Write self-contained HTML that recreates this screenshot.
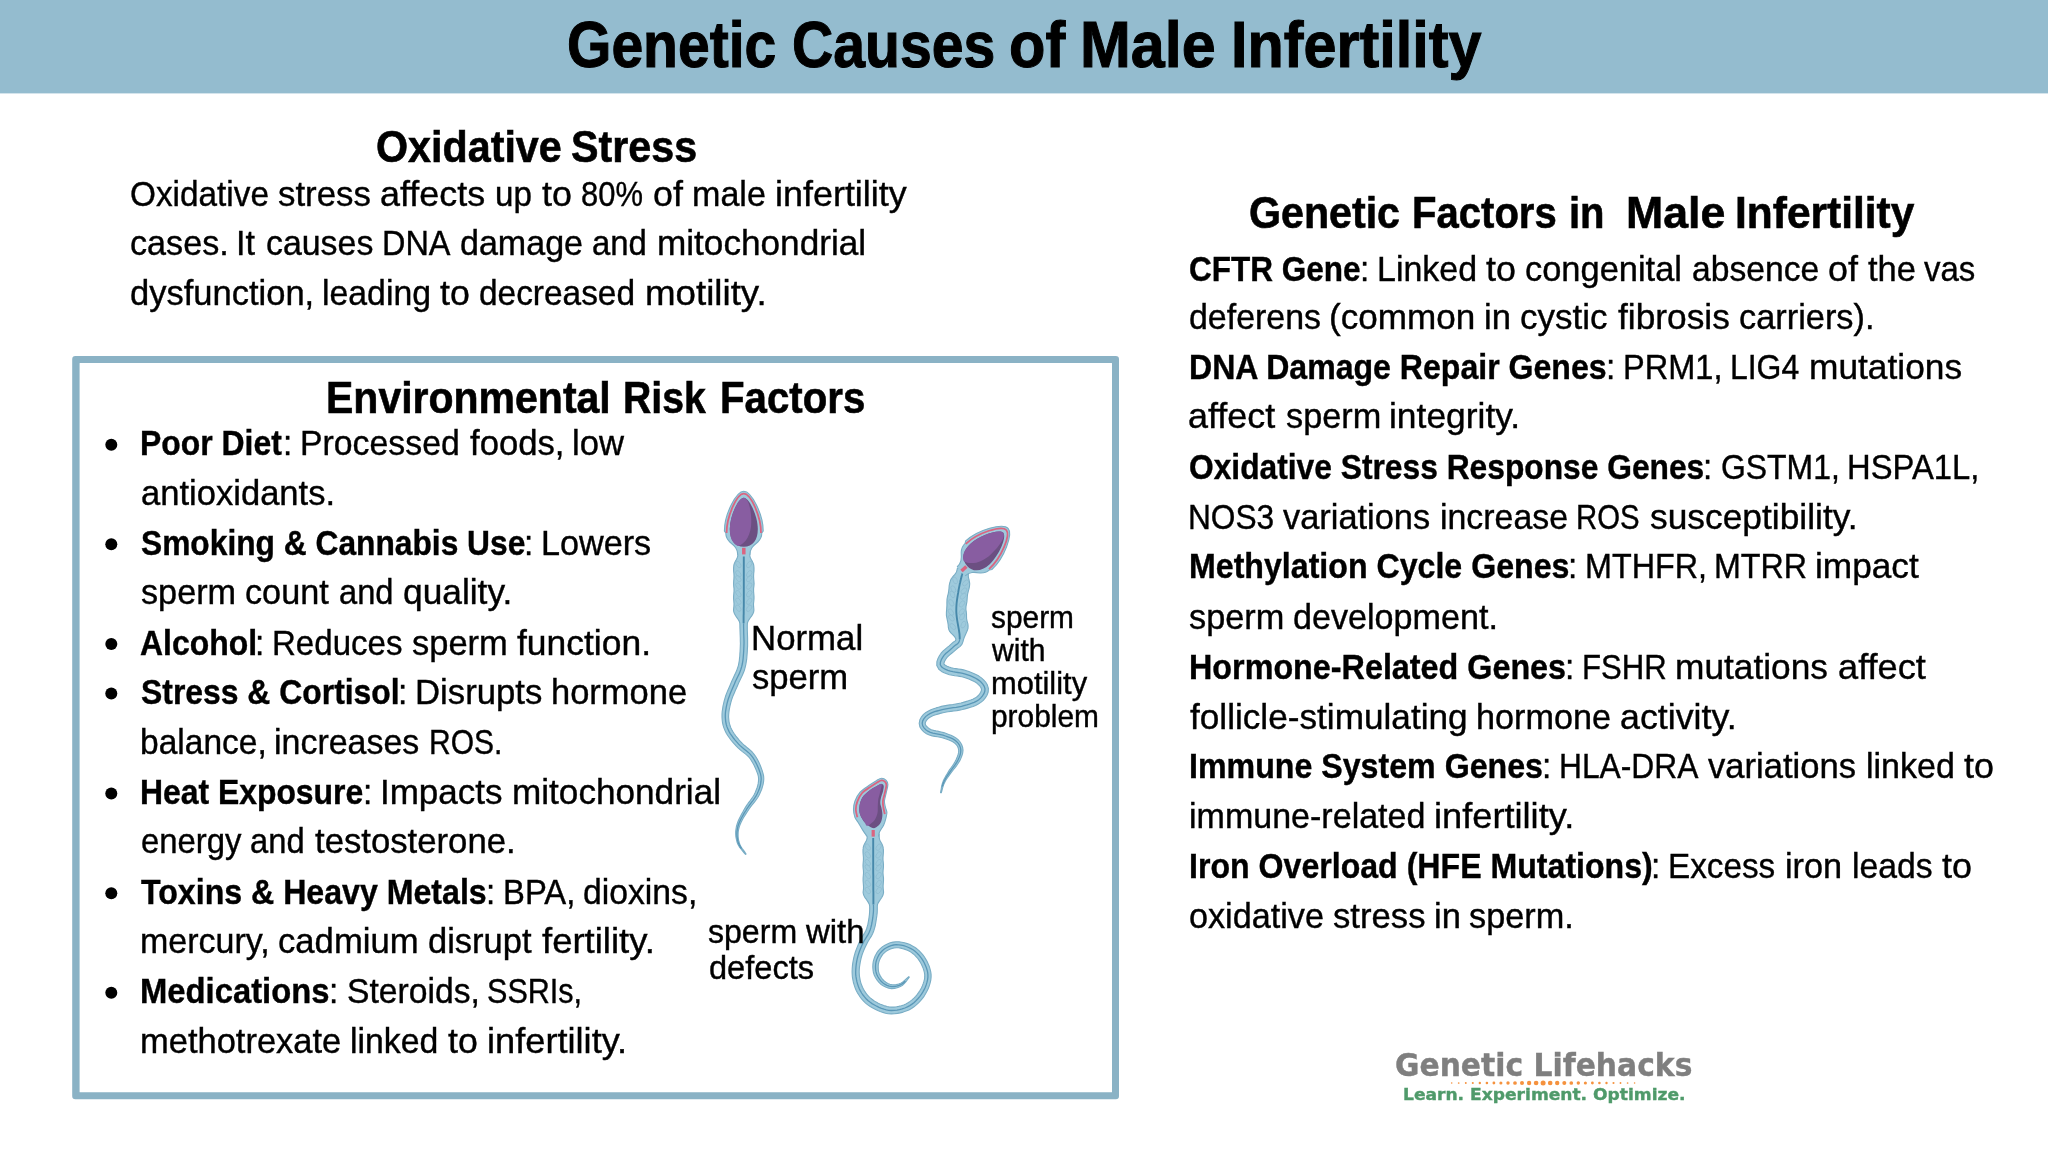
<!DOCTYPE html>
<html lang="en">
<head>
<meta charset="utf-8">
<title>Genetic Causes of Male Infertility</title>
<style>
html,body{margin:0;padding:0;background:#fff}
body{width:2048px;height:1152px;position:relative;overflow:hidden;font-family:"Liberation Sans",sans-serif;color:#000}
.ln{position:absolute;margin:0;padding:0;font-weight:400;white-space:pre;line-height:1;will-change:transform;-webkit-text-stroke:0.4px currentColor}
.ln span{position:absolute;top:0;left:0;transform-origin:0 0;font-weight:400}
.ln span.b{font-weight:700}
.dv{font-family:"DejaVu Sans",sans-serif}
.ill{position:absolute;left:0;top:0}
</style>
</head>
<body>

<svg class="ill" width="2048" height="1152" viewBox="0 0 2048 1152"><rect x="0" y="0" width="2048" height="93.4" fill="#94bccf"/><path fill="#8ab2c5" fill-rule="evenodd" d="M75.4 356.0H1115.8A3.2 3.2 0 0 1 1119.0 359.2V1096.1A3.2 3.2 0 0 1 1115.8 1099.3H75.4A3.2 3.2 0 0 1 72.2 1096.1V359.2A3.2 3.2 0 0 1 75.4 356.0ZM80.0 362.95H1111.6A0.4 0.4 0 0 1 1112.0 363.34999999999997V1091.8999999999999A0.4 0.4 0 0 1 1111.6 1092.3H80.0A0.4 0.4 0 0 1 79.6 1091.8999999999999V363.34999999999997A0.4 0.4 0 0 1 80.0 362.95Z"/><path d="M737.8 552.0 L737.8 553.1 L737.8 554.3 L737.8 555.4 L737.6 556.6 L737.2 557.7 L736.7 558.8 L736.1 560.0 L735.5 561.1 L734.9 562.2 L734.4 563.4 L734.0 564.5 L733.8 565.7 L733.7 566.8 L733.6 568.0 L733.6 570.9 L733.9 573.8 L734.0 576.2 L733.9 578.7 L733.7 581.1 L733.6 583.6 L733.7 586.1 L734.0 588.6 L734.0 591.2 L733.8 593.7 L733.6 596.2 L733.6 598.7 L733.8 601.2 L734.0 603.7 L733.9 606.2 L733.7 608.1 L733.5 610.0 L733.8 611.9 L734.5 613.8 L735.6 615.7 L736.9 617.6 L738.2 619.5 L739.3 621.4 L739.8 623.2 L739.9 625.0 L739.9 626.8 L740.0 629.7 L740.1 632.6 L740.2 635.4 L740.3 638.2 L740.3 640.9 L740.4 643.5 L740.3 646.0 L740.2 648.6 L740.1 651.1 L739.9 653.6 L739.8 656.0 L739.5 658.3 L739.3 660.6 L738.8 663.3 L738.3 665.8 L737.5 668.2 L736.7 670.6 L735.6 672.9 L734.5 675.3 L733.4 677.7 L732.2 680.2 L731.1 682.8 L730.1 685.2 L729.0 687.7 L727.9 690.3 L726.8 692.9 L725.8 695.5 L725.0 698.2 L724.2 700.8 L723.6 703.5 L723.0 706.2 L722.6 708.9 L722.2 711.5 L722.0 714.2 L722.0 717.2 L722.2 720.0 L722.5 722.7 L723.1 725.3 L723.9 727.9 L725.0 730.5 L726.3 733.2 L727.7 735.5 L729.3 737.8 L730.9 740.0 L732.7 742.1 L734.5 744.2 L736.3 746.2 L738.3 748.1 L740.3 749.9 L742.4 751.6 L744.4 753.1 L746.3 754.6 L747.9 756.1 L749.4 757.7 L750.7 759.5 L751.9 761.5 L753.1 763.5 L754.2 765.5 L755.3 767.9 L756.2 770.1 L757.1 772.4 L757.9 774.6 L758.4 776.7 L758.6 778.8 L758.5 781.0 L758.2 783.4 L757.7 785.6 L757.0 788.0 L756.1 790.3 L755.1 792.7 L754.0 795.0 L752.7 797.0 L751.3 799.0 L749.8 801.1 L748.2 803.2 L746.7 805.4 L745.3 807.6 L744.0 809.8 L742.8 812.0 L741.5 814.2 L740.4 816.4 L739.1 818.9 L738.1 821.3 L737.2 823.8 L736.4 826.5 L736.0 829.0 L735.7 831.6 L735.7 834.1 L735.9 836.8 L736.4 839.4 L737.0 842.0 L738.0 844.5 L739.3 846.8 L741.0 849.0 L742.5 850.9 L744.1 852.8 L745.5 854.4 L746.1 854.0 L744.9 852.2 L743.4 850.2 L742.0 848.3 L740.6 846.1 L739.6 843.8 L738.9 841.5 L738.4 839.0 L738.1 836.6 L738.1 834.1 L738.2 831.8 L738.6 829.5 L739.2 827.2 L740.0 824.8 L741.0 822.5 L742.1 820.3 L743.3 818.0 L744.6 816.0 L745.9 813.9 L747.3 811.8 L748.6 809.7 L750.0 807.7 L751.5 805.7 L753.2 803.7 L754.8 801.6 L756.4 799.5 L757.9 797.3 L759.3 794.7 L760.5 792.1 L761.6 789.5 L762.4 786.9 L763.1 784.3 L763.6 781.5 L763.8 778.8 L763.6 775.9 L763.0 773.3 L762.2 770.6 L761.3 768.1 L760.4 765.7 L759.2 763.1 L758.1 760.8 L756.9 758.5 L755.5 756.3 L753.9 754.1 L752.2 752.0 L750.2 750.2 L748.2 748.5 L746.2 746.8 L744.3 745.3 L742.5 743.7 L740.9 742.0 L739.2 740.1 L737.6 738.1 L735.9 736.1 L734.4 734.0 L733.1 732.0 L732.0 730.1 L730.9 727.9 L730.1 725.8 L729.5 723.7 L729.0 721.6 L728.8 719.3 L728.6 717.0 L728.7 714.5 L728.9 712.3 L729.2 709.9 L729.7 707.5 L730.2 705.0 L730.8 702.6 L731.5 700.2 L732.3 697.8 L733.2 695.4 L734.3 693.0 L735.3 690.5 L736.5 688.0 L737.6 685.5 L738.6 683.1 L739.7 680.7 L740.9 678.3 L742.1 675.8 L743.2 673.2 L744.3 670.5 L745.1 667.6 L745.8 664.6 L746.3 661.7 L746.7 659.2 L746.9 656.6 L747.1 654.1 L747.3 651.5 L747.4 648.9 L747.6 646.3 L747.6 643.5 L747.6 640.8 L747.6 638.0 L747.5 635.2 L747.4 632.4 L747.3 629.6 L747.3 626.7 L747.3 625.0 L747.4 623.2 L748.0 621.4 L749.0 619.6 L750.3 617.8 L751.7 615.9 L752.8 614.0 L753.6 612.2 L753.9 610.3 L753.8 608.3 L753.6 606.4 L753.5 603.9 L753.8 601.3 L754.0 598.8 L754.0 596.3 L753.8 593.7 L753.6 591.2 L753.6 588.6 L753.9 586.1 L754.1 583.6 L753.9 581.1 L753.7 578.6 L753.6 576.2 L753.7 573.8 L754.0 570.9 L754.0 568.0 L753.9 566.8 L753.8 565.7 L753.6 564.5 L753.2 563.4 L752.7 562.2 L752.1 561.1 L751.5 560.0 L750.9 558.8 L750.4 557.7 L750.0 556.6 L749.8 555.4 L749.8 554.3 L749.8 553.1 L749.8 552.0Z" fill="#9ecadc" stroke="#79adc5" stroke-width="1.1" stroke-linejoin="round"/>
<ellipse cx="749.2" cy="564.5" rx="3.6" ry="2.1" transform="rotate(125 749.2 564.5)" fill="none" stroke="#8fbdd2" stroke-width="0.8"/>
<ellipse cx="738.4" cy="564.5" rx="3.6" ry="2.1" transform="rotate(55 738.4 564.5)" fill="none" stroke="#8fbdd2" stroke-width="0.8"/>
<ellipse cx="749.2" cy="573.8" rx="3.6" ry="2.1" transform="rotate(125 749.2 573.8)" fill="none" stroke="#8fbdd2" stroke-width="0.8"/>
<ellipse cx="738.4" cy="573.8" rx="3.6" ry="2.1" transform="rotate(55 738.4 573.8)" fill="none" stroke="#8fbdd2" stroke-width="0.8"/>
<ellipse cx="749.2" cy="578.6" rx="3.6" ry="2.1" transform="rotate(125 749.2 578.6)" fill="none" stroke="#8fbdd2" stroke-width="0.8"/>
<ellipse cx="738.4" cy="578.6" rx="3.6" ry="2.1" transform="rotate(55 738.4 578.6)" fill="none" stroke="#8fbdd2" stroke-width="0.8"/>
<ellipse cx="749.2" cy="586.1" rx="3.6" ry="2.1" transform="rotate(125 749.2 586.1)" fill="none" stroke="#8fbdd2" stroke-width="0.8"/>
<ellipse cx="738.4" cy="586.1" rx="3.6" ry="2.1" transform="rotate(55 738.4 586.1)" fill="none" stroke="#8fbdd2" stroke-width="0.8"/>
<ellipse cx="749.2" cy="593.7" rx="3.6" ry="2.1" transform="rotate(125 749.2 593.7)" fill="none" stroke="#8fbdd2" stroke-width="0.8"/>
<ellipse cx="738.4" cy="593.7" rx="3.6" ry="2.1" transform="rotate(55 738.4 593.7)" fill="none" stroke="#8fbdd2" stroke-width="0.8"/>
<ellipse cx="749.2" cy="601.3" rx="3.6" ry="2.1" transform="rotate(125 749.2 601.3)" fill="none" stroke="#8fbdd2" stroke-width="0.8"/>
<ellipse cx="738.4" cy="601.2" rx="3.6" ry="2.1" transform="rotate(55 738.4 601.2)" fill="none" stroke="#8fbdd2" stroke-width="0.8"/>
<ellipse cx="749.1" cy="608.3" rx="3.6" ry="2.1" transform="rotate(126 749.1 608.3)" fill="none" stroke="#8fbdd2" stroke-width="0.8"/>
<ellipse cx="738.3" cy="608.2" rx="3.6" ry="2.1" transform="rotate(56 738.3 608.2)" fill="none" stroke="#8fbdd2" stroke-width="0.8"/>
<path d="M743.8 556.6 L743.8 557.7 L743.8 558.8 L743.8 560.0 L743.8 561.1 L743.8 562.2 L743.8 563.4 L743.8 564.5 L743.8 565.7 L743.8 566.8 L743.8 568.0 L743.8 570.9 L743.8 573.8 L743.8 576.2 L743.8 578.6 L743.8 581.1 L743.8 583.6 L743.8 586.1 L743.8 588.6 L743.8 591.2 L743.8 593.7 L743.8 596.2 L743.8 598.7 L743.8 601.3 L743.8 603.8 L743.8 606.3 L743.7 608.2 L743.7 610.1 L743.7 612.0 L743.7 613.9 L743.6 615.8 L743.6 617.7 L743.6 619.6 L743.6 621.4 L743.6 623.2" fill="none" stroke="#4688aa" stroke-width="1.9"/>
<path d="M743.6 623.2 L743.6 625.0 L743.6 626.8 L743.7 629.7 L743.7 632.5 L743.8 635.3 L743.9 638.1 L744.0 640.8 L744.0 643.5 L743.9 646.2 L743.8 648.8 L743.7 651.3 L743.5 653.8 L743.3 656.3 L743.1 658.8 L742.8 661.1 L742.3 664.0 L741.7 666.7 L740.9 669.3 L739.9 671.9 L738.9 674.4 L737.7 676.8 L736.5 679.2 L735.4 681.6 L734.4 684.1 L733.3 686.6 L732.2 689.1 L731.1 691.6 L730.0 694.2 L729.1 696.7 L728.2 699.2 L727.5 701.7 L726.9 704.2 L726.3 706.8 L725.9 709.4 L725.5 711.9 L725.3 714.3 L725.3 717.1 L725.5 719.7 L725.8 722.1 L726.3 724.5 L727.0 726.9 L728.0 729.2 L729.1 731.6 L730.4 733.8 L731.9 735.9 L733.4 738.0 L735.1 740.1 L736.9 742.1 L738.6 744.1 L740.4 745.9 L742.3 747.6 L744.3 749.2 L746.3 750.8 L748.3 752.4 L750.1 754.1 L751.6 755.9 L753.1 757.9 L754.4 760.0 L755.6 762.1 L756.7 764.3 L757.8 766.8 L758.8 769.1 L759.7 771.5 L760.5 773.9 L761.0 776.3 L761.2 778.8 L761.0 781.2 L760.6 783.9 L760.1 786.3 L759.3 788.7 L758.3 791.2 L757.2 793.7 L755.9 796.1 L754.6 798.2 L753.1 800.3 L751.5 802.4 L749.9 804.5 L748.4 806.6 L747.0 808.6 L745.7 810.8 L744.3 812.9 L743.1 815.1 L741.9 817.2 L740.6 819.6 L739.5 821.9 L738.6 824.3 L737.8 826.8 L737.3 829.3 L737.0 831.7 L736.9 834.1 L737.0 836.7 L737.4 839.2 L738.0 841.7 L738.8 844.1 L740.0 846.4 L741.5 848.7" fill="none" stroke="#5a97b7" stroke-width="1.3"/><g transform="translate(743.8 552.0) rotate(0.0)"><path d="M-6 3C-6-3-9-6-14-10C-17-13-18-16-18-19L-19.4-21C-19.4-38-7.5-60.75 0-60.75C7.5-60.75 19.4-38 19.4-21L18-19C18-16 17-13 14-10C9-6 6-3 6 3Z" fill="#9ecadc"/><path d="M-6 3C-6-3-9-6-14-10C-17-13-18-16-18-19L-19.4-21C-19.4-38-7.5-60.75 0-60.75C7.5-60.75 19.4-38 19.4-21L18-19C18-16 17-13 14-10C9-6 6-3 6 3" fill="none" stroke="#79adc5" stroke-width="1.1"/><path d="M0-5.2C-9-5.2-14-12-14-23C-14-36-5.5-54.2 0-54.2C5.5-54.2 14-36 14-23C14-12 9-5.2 0-5.2Z" fill="#6c4f82"/><path d="M-6-6C-11-8-14-14-14-23C-14-36-5.5-54.2 0-54.2C4-54.2 7.5-44 7.5-30C7.5-18 2-8-6-6Z" fill="#885da1"/><path d="M-17.2-19.1C-17.2-36-6.8-58.3 0-58.3C6.8-58.3 17.2-36 17.2-19.1" fill="none" stroke="#db6480" stroke-width="1.8"/><rect x="-1.75" y="-4.2" width="3.5" height="6.6" fill="#db6480"/></g><path d="M957.5 568.0 L957.2 569.1 L957.0 570.1 L956.7 571.1 L956.4 572.0 L955.8 573.0 L955.2 573.9 L954.5 574.8 L953.7 575.7 L952.9 576.6 L952.2 577.5 L951.5 578.5 L950.9 579.4 L950.5 580.5 L950.2 581.6 L949.8 582.7 L949.2 585.5 L949.0 588.3 L948.7 591.1 L948.2 593.8 L947.5 596.5 L947.0 599.4 L946.9 602.4 L946.9 605.6 L946.7 608.8 L946.4 612.3 L946.4 615.4 L947.0 618.6 L947.7 621.8 L948.2 624.9 L948.3 627.2 L948.8 629.4 L949.7 631.4 L951.1 633.2 L952.7 634.7 L954.1 636.2 L955.1 637.4 L955.8 638.8 L955.8 639.9 L955.6 640.5 L955.2 640.9 L953.3 642.2 L951.1 644.1 L949.2 645.8 L947.3 647.4 L945.3 649.1 L943.2 650.9 L941.1 653.2 L939.4 655.7 L938.0 658.4 L936.9 661.6 L936.8 665.5 L938.8 669.2 L941.5 671.4 L944.1 672.7 L946.7 673.7 L949.4 674.7 L952.3 675.3 L954.8 675.7 L957.3 676.0 L959.7 676.4 L961.9 676.8 L964.4 677.5 L966.6 678.2 L968.8 679.0 L970.9 679.9 L973.2 681.0 L975.2 682.0 L977.1 683.3 L978.7 684.8 L980.0 686.2 L981.0 687.8 L981.5 689.2 L981.4 690.5 L980.7 692.2 L979.7 693.8 L978.4 695.5 L976.7 697.0 L975.0 698.1 L972.8 699.2 L970.7 700.0 L968.4 700.8 L965.8 701.6 L963.2 702.4 L960.9 703.0 L958.4 703.5 L955.7 704.0 L952.8 704.5 L949.8 704.9 L946.9 705.4 L944.1 705.9 L941.4 706.4 L938.6 707.2 L936.1 707.9 L933.6 708.7 L930.9 709.7 L928.5 710.9 L925.9 712.4 L923.5 714.4 L921.5 716.8 L919.9 719.7 L919.2 723.3 L919.9 726.9 L921.7 729.7 L923.8 731.9 L926.5 733.7 L929.3 735.0 L932.2 735.9 L934.9 736.4 L937.5 736.8 L940.0 737.3 L942.2 737.7 L944.6 738.4 L946.9 739.2 L949.0 740.0 L951.3 741.0 L953.2 742.0 L954.9 743.2 L956.4 744.8 L957.6 746.5 L958.3 748.3 L958.7 750.3 L958.6 752.4 L958.1 754.6 L957.2 757.0 L956.3 759.2 L955.1 761.5 L953.8 763.7 L952.5 765.7 L951.1 767.7 L949.5 769.9 L948.2 772.1 L946.9 774.2 L945.6 776.4 L944.3 778.8 L943.2 781.1 L942.3 783.7 L941.6 786.3 L941.2 789.0 L940.7 791.6 L940.5 792.6 L941.3 792.8 L941.6 791.8 L942.3 789.2 L943.0 786.7 L943.8 784.3 L944.9 781.9 L946.1 779.8 L947.5 777.7 L949.0 775.6 L950.4 773.6 L951.9 771.6 L953.6 769.5 L955.1 767.6 L956.6 765.6 L958.2 763.3 L959.7 760.9 L960.8 758.5 L961.9 755.8 L962.7 753.1 L963.0 750.1 L962.6 747.2 L961.6 744.5 L960.1 742.0 L958.1 739.7 L955.9 737.9 L953.5 736.5 L951.0 735.3 L948.7 734.4 L946.3 733.5 L943.7 732.6 L941.1 732.0 L938.5 731.4 L935.9 730.9 L933.6 730.4 L931.3 729.7 L929.4 728.7 L927.7 727.4 L926.4 726.1 L925.5 724.7 L925.2 723.3 L925.6 721.9 L926.5 720.3 L927.8 718.8 L929.5 717.5 L931.3 716.5 L933.3 715.6 L935.7 714.7 L937.9 714.1 L940.3 713.4 L942.9 712.7 L945.3 712.3 L947.9 711.8 L950.8 711.4 L953.7 711.0 L956.7 710.6 L959.6 710.1 L962.4 709.5 L964.9 708.9 L967.7 708.1 L970.5 707.3 L973.1 706.4 L975.6 705.4 L978.3 704.0 L980.8 702.4 L983.3 700.3 L985.3 697.9 L987.0 695.2 L988.2 692.0 L988.4 688.4 L987.3 684.8 L985.6 682.0 L983.6 679.8 L981.4 677.9 L978.9 676.1 L976.4 674.7 L973.7 673.4 L971.3 672.5 L968.9 671.6 L966.5 670.8 L963.6 669.9 L961.0 669.4 L958.4 669.0 L955.9 668.6 L953.6 668.2 L951.3 667.7 L949.1 667.0 L947.1 666.2 L945.3 665.3 L944.3 664.5 L943.9 663.9 L944.0 663.0 L944.6 661.3 L945.6 659.5 L946.8 657.7 L948.3 656.2 L950.0 654.7 L952.0 653.0 L954.0 651.4 L956.0 649.6 L957.8 648.0 L959.9 646.6 L961.9 644.4 L962.9 641.9 L963.5 639.6 L964.3 637.3 L965.2 635.3 L966.2 633.1 L967.2 630.8 L968.0 628.4 L968.1 626.1 L967.9 623.8 L967.2 621.6 L966.6 618.8 L966.5 616.1 L966.5 613.7 L966.2 611.7 L965.9 609.2 L966.0 606.7 L966.4 604.3 L966.9 601.9 L967.1 599.4 L967.3 596.8 L967.6 594.2 L968.2 591.7 L968.9 589.2 L969.4 586.8 L969.5 585.9 L969.6 584.9 L969.7 583.9 L969.6 582.8 L969.4 581.7 L969.2 580.6 L968.9 579.5 L968.7 578.3 L968.4 577.2 L968.3 576.1 L968.3 575.0 L968.4 573.9 L968.7 572.8 L968.9 571.8 L969.1 570.8Z" fill="#9ecadc" stroke="#79adc5" stroke-width="1.1" stroke-linejoin="round"/>
<ellipse cx="965.6" cy="582.9" rx="3.6" ry="2.1" transform="rotate(138 965.6 582.9)" fill="none" stroke="#8fbdd2" stroke-width="0.8"/>
<ellipse cx="955.1" cy="580.4" rx="3.6" ry="2.1" transform="rotate(68 955.1 580.4)" fill="none" stroke="#8fbdd2" stroke-width="0.8"/>
<ellipse cx="963.9" cy="590.9" rx="3.6" ry="2.1" transform="rotate(135 963.9 590.9)" fill="none" stroke="#8fbdd2" stroke-width="0.8"/>
<ellipse cx="953.3" cy="589.1" rx="3.6" ry="2.1" transform="rotate(65 953.3 589.1)" fill="none" stroke="#8fbdd2" stroke-width="0.8"/>
<ellipse cx="963.1" cy="596.1" rx="3.6" ry="2.1" transform="rotate(134 963.1 596.1)" fill="none" stroke="#8fbdd2" stroke-width="0.8"/>
<ellipse cx="952.4" cy="594.4" rx="3.6" ry="2.1" transform="rotate(64 952.4 594.4)" fill="none" stroke="#8fbdd2" stroke-width="0.8"/>
<ellipse cx="962.0" cy="603.9" rx="3.6" ry="2.1" transform="rotate(130 962.0 603.9)" fill="none" stroke="#8fbdd2" stroke-width="0.8"/>
<ellipse cx="951.3" cy="602.8" rx="3.6" ry="2.1" transform="rotate(60 951.3 602.8)" fill="none" stroke="#8fbdd2" stroke-width="0.8"/>
<ellipse cx="961.7" cy="611.9" rx="3.6" ry="2.1" transform="rotate(123 961.7 611.9)" fill="none" stroke="#8fbdd2" stroke-width="0.8"/>
<ellipse cx="950.9" cy="612.1" rx="3.6" ry="2.1" transform="rotate(53 950.9 612.1)" fill="none" stroke="#8fbdd2" stroke-width="0.8"/>
<ellipse cx="962.1" cy="616.6" rx="3.6" ry="2.1" transform="rotate(118 962.1 616.6)" fill="none" stroke="#8fbdd2" stroke-width="0.8"/>
<ellipse cx="951.4" cy="618.0" rx="3.6" ry="2.1" transform="rotate(48 951.4 618.0)" fill="none" stroke="#8fbdd2" stroke-width="0.8"/>
<ellipse cx="963.4" cy="624.6" rx="3.6" ry="2.1" transform="rotate(115 963.4 624.6)" fill="none" stroke="#8fbdd2" stroke-width="0.8"/>
<ellipse cx="952.8" cy="626.5" rx="3.6" ry="2.1" transform="rotate(45 952.8 626.5)" fill="none" stroke="#8fbdd2" stroke-width="0.8"/>
<path d="M962.3 573.5 L962.1 574.5 L961.8 575.5 L961.6 576.6 L961.3 577.6 L961.1 578.6 L960.8 579.6 L960.6 580.6 L960.3 581.7 L960.1 582.7 L959.8 583.7 L959.6 584.8 L959.1 587.4 L958.6 590.0 L958.2 592.7 L957.7 595.3 L957.3 597.9 L956.9 600.6 L956.6 603.3 L956.4 606.1 L956.3 609.0 L956.3 612.0 L956.5 614.6 L956.8 617.3 L957.2 620.3 L957.7 623.3 L958.1 625.5 L958.5 627.7 L958.9 629.9 L959.2 632.0 L959.5 633.9 L959.6 635.7 L959.7 637.3 L959.7 639.2" fill="none" stroke="#4688aa" stroke-width="1.9"/>
<path d="M959.7 639.2 L959.4 640.9 L958.7 642.4 L957.6 643.8 L955.6 645.1 L953.5 646.8 L951.6 648.6 L949.7 650.2 L947.6 651.9 L945.7 653.5 L944.0 655.4 L942.5 657.6 L941.3 659.8 L940.4 662.3 L940.3 664.7 L941.5 666.8 L943.4 668.3 L945.6 669.4 L947.9 670.4 L950.4 671.2 L952.9 671.7 L955.3 672.1 L957.8 672.5 L960.3 672.9 L962.8 673.4 L965.4 674.1 L967.7 674.9 L970.0 675.7 L972.3 676.7 L974.8 677.8 L977.1 679.1 L979.3 680.6 L981.2 682.3 L982.8 684.1 L984.2 686.3 L985.0 688.8 L984.8 691.3 L983.9 693.7 L982.5 695.9 L980.8 697.9 L978.8 699.7 L976.6 701.1 L974.2 702.3 L971.9 703.2 L969.4 704.1 L966.8 704.9 L964.0 705.6 L961.6 706.3 L959.0 706.8 L956.2 707.3 L953.3 707.7 L950.3 708.1 L947.4 708.6 L944.7 709.1 L942.2 709.6 L939.5 710.3 L937.0 711.0 L934.6 711.7 L932.1 712.7 L929.9 713.7 L927.7 715.0 L925.6 716.6 L924.0 718.6 L922.7 720.8 L922.2 723.3 L922.7 725.8 L924.0 727.9 L925.8 729.7 L927.9 731.2 L930.3 732.4 L932.9 733.1 L935.4 733.6 L938.0 734.1 L940.6 734.6 L943.0 735.2 L945.4 736.0 L947.8 736.8 L950.0 737.7 L952.4 738.7 L954.5 739.9 L956.5 741.5 L958.3 743.4 L959.6 745.5 L960.5 747.8 L960.8 750.2 L960.6 752.8 L960.0 755.2 L959.0 757.7 L958.0 760.0 L956.7 762.4 L955.2 764.7 L953.8 766.6 L952.3 768.6 L950.7 770.8 L949.3 772.8 L947.9 774.9 L946.5 777.0 L945.2 779.3 L944.0 781.5 L943.0 784.0 L942.3 786.5" fill="none" stroke="#5a97b7" stroke-width="1.3"/><g transform="translate(963.3 569.4) rotate(47.5)"><path d="M-6 3C-6-3-9-6-14-10C-17-13-18-16-18-19L-19.4-21C-19.4-38-7.5-60.75 0-60.75C7.5-60.75 19.4-38 19.4-21L18-19C18-16 17-13 14-10C9-6 6-3 6 3Z" fill="#9ecadc"/><path d="M-6 3C-6-3-9-6-14-10C-17-13-18-16-18-19L-19.4-21C-19.4-38-7.5-60.75 0-60.75C7.5-60.75 19.4-38 19.4-21L18-19C18-16 17-13 14-10C9-6 6-3 6 3" fill="none" stroke="#79adc5" stroke-width="1.1"/><path d="M0-5.2C-9-5.2-14-12-14-23C-14-36-5.5-54.2 0-54.2C5.5-54.2 14-36 14-23C14-12 9-5.2 0-5.2Z" fill="#6c4f82"/><path d="M-6-6C-11-8-14-14-14-23C-14-36-5.5-54.2 0-54.2C4-54.2 7.5-44 7.5-30C7.5-18 2-8-6-6Z" fill="#885da1"/><path d="M-17.2-19.1C-17.2-36-6.8-58.3 0-58.3C6.8-58.3 17.2-36 17.2-19.1" fill="none" stroke="#db6480" stroke-width="1.8"/><rect x="-1.75" y="-4.2" width="3.5" height="6.6" fill="#db6480"/></g><path d="M867.2 834.2 L867.2 835.5 L867.2 836.8 L867.1 838.1 L866.8 839.4 L866.3 840.7 L865.6 842.0 L864.9 843.3 L864.2 844.6 L863.7 845.8 L863.3 847.1 L863.2 848.4 L863.0 849.7 L863.0 852.3 L863.2 854.9 L863.4 857.5 L863.4 860.0 L863.2 862.6 L863.0 865.2 L863.1 867.8 L863.4 870.5 L863.5 873.1 L863.3 875.6 L863.1 878.1 L863.1 880.6 L863.3 883.4 L863.5 886.1 L863.5 888.6 L863.3 890.5 L863.1 892.3 L863.4 894.1 L864.0 895.7 L864.8 897.3 L866.2 899.2 L867.5 901.1 L868.6 902.9 L869.4 904.6 L869.7 906.5 L869.7 908.1 L869.7 909.6 L869.6 912.1 L869.4 914.6 L869.1 917.1 L868.7 919.5 L868.3 921.9 L867.9 924.2 L867.3 926.4 L866.7 928.5 L865.8 930.7 L864.7 932.8 L863.4 934.9 L862.0 937.2 L860.6 939.7 L859.3 942.3 L858.2 944.8 L857.1 947.4 L856.1 950.0 L855.1 952.8 L854.3 955.6 L853.7 958.1 L853.2 960.7 L852.7 963.4 L852.4 966.1 L852.2 968.9 L852.1 971.7 L852.2 974.5 L852.4 977.2 L852.9 979.9 L853.4 982.5 L854.2 985.1 L855.1 987.7 L856.1 990.2 L857.3 992.6 L858.7 994.8 L860.1 997.0 L861.8 999.1 L863.6 1001.2 L865.6 1003.1 L867.8 1004.9 L870.2 1006.5 L872.8 1008.0 L875.2 1009.3 L877.7 1010.5 L880.2 1011.5 L882.9 1012.4 L885.5 1013.2 L888.2 1013.7 L891.4 1013.9 L894.5 1013.8 L897.6 1013.4 L900.2 1012.9 L903.2 1012.1 L906.1 1011.1 L908.9 1009.9 L911.5 1008.5 L914.0 1006.8 L916.3 1004.9 L918.5 1002.9 L920.6 1000.7 L922.5 998.4 L924.2 996.1 L925.7 993.5 L927.2 990.8 L928.3 988.5 L929.2 986.0 L930.1 983.1 L930.8 980.2 L931.1 977.2 L931.1 974.4 L930.7 971.6 L930.0 968.8 L929.2 966.2 L928.1 963.7 L927.0 961.3 L925.7 959.1 L924.3 956.8 L922.7 954.6 L920.9 952.6 L919.0 950.6 L916.9 948.8 L914.7 947.2 L912.4 945.9 L909.9 944.6 L907.2 943.6 L904.5 942.8 L901.8 942.2 L899.0 941.8 L896.0 941.7 L893.1 942.1 L890.2 942.8 L887.4 943.9 L884.9 945.2 L882.6 946.6 L880.3 948.6 L878.2 950.9 L876.5 953.4 L875.1 956.0 L874.1 958.7 L873.3 961.4 L872.9 964.2 L872.8 967.0 L873.0 969.8 L873.4 972.5 L874.3 975.3 L875.7 978.0 L877.3 980.4 L879.2 982.7 L881.2 984.5 L883.6 986.1 L886.1 987.3 L888.7 988.1 L891.6 988.6 L894.4 988.5 L897.2 987.8 L899.8 986.8 L902.2 985.5 L904.2 983.7 L906.0 981.7 L907.6 979.5 L909.1 977.4 L909.3 977.2 L908.7 976.6 L908.5 976.8 L906.5 978.6 L904.6 980.4 L902.8 982.0 L900.8 983.2 L898.6 984.0 L896.3 984.6 L894.1 984.9 L892.0 984.8 L889.8 984.2 L887.8 983.4 L885.9 982.3 L884.2 981.0 L882.7 979.5 L881.3 977.6 L880.1 975.6 L879.1 973.4 L878.5 971.3 L878.3 969.2 L878.2 967.0 L878.3 964.7 L878.7 962.6 L879.3 960.6 L880.2 958.5 L881.4 956.4 L882.7 954.4 L884.3 952.8 L886.0 951.4 L887.8 950.3 L889.8 949.3 L892.0 948.5 L894.1 948.0 L896.3 947.7 L898.5 947.8 L900.6 948.1 L902.9 948.7 L905.2 949.4 L907.4 950.3 L909.5 951.3 L911.3 952.4 L913.0 953.7 L914.7 955.1 L916.3 956.8 L917.8 958.5 L919.1 960.4 L920.3 962.3 L921.4 964.2 L922.3 966.3 L923.2 968.4 L923.9 970.6 L924.4 972.7 L924.7 974.9 L924.7 976.9 L924.5 979.1 L923.9 981.4 L923.1 983.9 L922.3 985.9 L921.4 987.9 L920.1 990.3 L918.7 992.4 L917.3 994.4 L915.7 996.3 L913.9 998.2 L912.0 999.9 L910.1 1001.4 L908.0 1002.8 L905.9 1003.9 L903.7 1004.9 L901.3 1005.7 L898.7 1006.4 L896.6 1006.8 L894.0 1007.1 L891.5 1007.1 L889.1 1006.9 L887.1 1006.5 L884.9 1005.9 L882.7 1005.1 L880.4 1004.2 L878.2 1003.2 L876.2 1002.1 L873.9 1000.7 L872.0 999.3 L870.2 997.9 L868.6 996.3 L867.1 994.7 L865.8 992.9 L864.6 991.1 L863.5 989.2 L862.5 987.3 L861.7 985.2 L860.9 983.1 L860.3 980.8 L859.9 978.6 L859.5 976.3 L859.3 974.0 L859.2 971.7 L859.3 969.4 L859.5 966.9 L859.9 964.4 L860.3 962.0 L860.8 959.7 L861.3 957.5 L862.0 955.0 L862.9 952.6 L863.8 950.2 L864.9 947.8 L866.0 945.4 L867.1 943.2 L868.3 941.0 L869.7 938.8 L871.2 936.4 L872.6 933.8 L873.7 931.0 L874.5 928.4 L875.2 925.8 L875.7 923.2 L876.1 920.6 L876.5 918.2 L876.9 915.4 L877.2 912.6 L877.3 909.8 L877.3 908.0 L877.3 906.3 L877.5 904.5 L878.2 902.9 L879.3 901.1 L880.6 899.2 L881.9 897.2 L882.8 895.6 L883.3 893.9 L883.6 892.2 L883.4 890.4 L883.2 888.5 L883.1 886.0 L883.3 883.3 L883.5 880.5 L883.5 878.1 L883.2 875.6 L883.0 873.0 L883.1 870.4 L883.4 867.8 L883.5 865.1 L883.3 862.5 L883.0 860.0 L883.0 857.4 L883.2 854.9 L883.4 852.3 L883.4 849.7 L883.2 848.4 L883.1 847.2 L882.7 845.9 L882.2 844.6 L881.5 843.3 L880.8 842.0 L880.1 840.7 L879.6 839.4 L879.3 838.1 L879.2 836.8 L879.2 835.5 L879.2 834.2Z" fill="#9ecadc" stroke="#79adc5" stroke-width="1.1" stroke-linejoin="round"/>
<ellipse cx="878.6" cy="847.2" rx="3.6" ry="2.1" transform="rotate(125 878.6 847.2)" fill="none" stroke="#8fbdd2" stroke-width="0.8"/>
<ellipse cx="867.8" cy="847.1" rx="3.6" ry="2.1" transform="rotate(55 867.8 847.1)" fill="none" stroke="#8fbdd2" stroke-width="0.8"/>
<ellipse cx="878.6" cy="854.9" rx="3.6" ry="2.1" transform="rotate(125 878.6 854.9)" fill="none" stroke="#8fbdd2" stroke-width="0.8"/>
<ellipse cx="867.8" cy="854.9" rx="3.6" ry="2.1" transform="rotate(55 867.8 854.9)" fill="none" stroke="#8fbdd2" stroke-width="0.8"/>
<ellipse cx="878.6" cy="862.6" rx="3.6" ry="2.1" transform="rotate(125 878.6 862.6)" fill="none" stroke="#8fbdd2" stroke-width="0.8"/>
<ellipse cx="867.8" cy="862.6" rx="3.6" ry="2.1" transform="rotate(55 867.8 862.6)" fill="none" stroke="#8fbdd2" stroke-width="0.8"/>
<ellipse cx="878.6" cy="867.8" rx="3.6" ry="2.1" transform="rotate(125 878.6 867.8)" fill="none" stroke="#8fbdd2" stroke-width="0.8"/>
<ellipse cx="867.8" cy="867.8" rx="3.6" ry="2.1" transform="rotate(55 867.8 867.8)" fill="none" stroke="#8fbdd2" stroke-width="0.8"/>
<ellipse cx="878.7" cy="875.6" rx="3.6" ry="2.1" transform="rotate(125 878.7 875.6)" fill="none" stroke="#8fbdd2" stroke-width="0.8"/>
<ellipse cx="867.9" cy="875.6" rx="3.6" ry="2.1" transform="rotate(55 867.9 875.6)" fill="none" stroke="#8fbdd2" stroke-width="0.8"/>
<ellipse cx="878.7" cy="883.4" rx="3.6" ry="2.1" transform="rotate(125 878.7 883.4)" fill="none" stroke="#8fbdd2" stroke-width="0.8"/>
<ellipse cx="867.9" cy="883.4" rx="3.6" ry="2.1" transform="rotate(55 867.9 883.4)" fill="none" stroke="#8fbdd2" stroke-width="0.8"/>
<ellipse cx="878.7" cy="890.4" rx="3.6" ry="2.1" transform="rotate(125 878.7 890.4)" fill="none" stroke="#8fbdd2" stroke-width="0.8"/>
<ellipse cx="867.9" cy="890.5" rx="3.6" ry="2.1" transform="rotate(55 867.9 890.5)" fill="none" stroke="#8fbdd2" stroke-width="0.8"/>
<path d="M873.2 838.1 L873.2 839.4 L873.2 840.7 L873.2 842.0 L873.2 843.3 L873.2 844.6 L873.2 845.9 L873.2 847.2 L873.2 848.4 L873.2 849.7 L873.2 852.3 L873.2 854.9 L873.2 857.5 L873.2 860.0 L873.2 862.6 L873.2 865.2 L873.2 867.8 L873.2 870.4 L873.2 873.0 L873.3 875.6 L873.3 878.1 L873.3 880.5 L873.3 883.4 L873.3 886.0 L873.3 888.5 L873.3 890.4 L873.4 892.2 L873.4 894.0 L873.4 895.7 L873.4 897.3 L873.4 899.2 L873.4 901.1 L873.4 902.9 L873.4 904.6" fill="none" stroke="#4688aa" stroke-width="1.9"/>
<path d="M873.4 904.6 L873.5 906.4 L873.5 908.1 L873.5 909.7 L873.4 912.3 L873.1 915.0 L872.8 917.7 L872.4 920.1 L872.0 922.5 L871.5 925.0 L870.9 927.4 L870.2 929.7 L869.2 932.2 L868.0 934.6 L866.6 936.9 L865.2 939.1 L863.8 941.4 L862.6 943.9 L861.5 946.3 L860.5 948.8 L859.5 951.3 L858.6 953.9 L857.8 956.5 L857.2 958.9 L856.7 961.4 L856.3 963.9 L856.0 966.5 L855.8 969.1 L855.7 971.7 L855.7 974.3 L856.0 976.7 L856.4 979.2 L856.9 981.7 L857.6 984.1 L858.4 986.5 L859.3 988.7 L860.4 990.9 L861.6 993.0 L863.0 995.0 L864.5 996.9 L866.1 998.7 L867.9 1000.5 L869.9 1002.1 L872.0 1003.6 L874.5 1005.0 L876.7 1006.2 L879.0 1007.3 L881.4 1008.3 L883.9 1009.2 L886.3 1009.8 L888.7 1010.3 L891.4 1010.5 L894.3 1010.4 L897.1 1010.1 L899.5 1009.7 L902.2 1008.9 L904.9 1008.0 L907.4 1006.9 L909.8 1005.6 L912.0 1004.1 L914.2 1002.4 L916.2 1000.5 L918.1 998.5 L919.9 996.4 L921.5 994.2 L922.9 991.9 L924.3 989.4 L925.3 987.2 L926.2 984.9 L927.0 982.2 L927.6 979.6 L927.9 977.1 L927.9 974.6 L927.6 972.1 L927.0 969.7 L926.2 967.3 L925.2 965.0 L924.2 962.8 L923.0 960.7 L921.7 958.6 L920.2 956.6 L918.6 954.7 L916.8 952.9 L915.0 951.2 L913.0 949.8 L910.9 948.6 L908.6 947.5 L906.2 946.5 L903.7 945.7 L901.2 945.1 L898.8 944.8 L896.2 944.7 L893.6 945.0 L891.1 945.7 L888.6 946.6 L886.4 947.7 L884.3 949.0 L882.3 950.7 L880.5 952.7 L878.9 954.9 L877.7 957.2 L876.7 959.6 L876.0 962.0 L875.6 964.5 L875.5 967.0 L875.6 969.5 L876.0 971.9 L876.7 974.3 L877.9 976.8 L879.3 979.0 L880.9 981.1 L882.7 982.7 L884.7 984.2 L886.9 985.3 L889.2 986.2 L891.8 986.7 L894.2 986.7 L896.7 986.2 L899.2 985.4 L901.5 984.3 L903.5 982.9 L905.3 981.0" fill="none" stroke="#5a97b7" stroke-width="1.3"/><g transform="translate(873.2 834.2)"><path d="M-5.8 2.5C-8.4 1.4 -8.8 -1.5 -10.3 -3.8C-11.8 -6.1 -13.5 -9.2 -14.8 -11.4C-16.1 -13.6 -17.5 -14.8 -18.3 -17.0C-19.1 -19.2 -19.7 -22.0 -19.7 -24.6C-19.7 -27.2 -19.4 -30.0 -18.3 -32.9C-17.2 -35.8 -15.5 -39.3 -13.1 -42.0C-10.7 -44.7 -6.8 -46.9 -4.0 -48.9C-1.2 -50.9 1.5 -52.6 3.6 -53.8C5.7 -55.0 6.9 -55.9 8.5 -55.9C10.1 -55.9 12.0 -54.8 13.0 -53.8C14.0 -52.8 14.7 -51.7 14.7 -49.6C14.7 -47.5 13.6 -44.1 13.0 -41.3C12.4 -38.5 11.3 -35.3 11.2 -32.9C11.1 -30.5 11.9 -28.5 12.3 -26.7C12.7 -24.9 13.6 -23.7 13.7 -21.8C13.8 -19.9 13.1 -17.7 12.6 -15.6C12.1 -13.5 11.5 -11.5 10.5 -9.3C9.5 -7.1 7.3 -4.4 6.4 -2.4C5.5 -0.4 7.3 1.7 5.3 2.5C3.3 3.3 -3.2 3.5 -5.8 2.5Z" fill="#9ecadc"/><path d="M-5.8 2.5C-6.5 1.4 -8.8 -1.5 -10.3 -3.8C-11.8 -6.1 -13.5 -9.2 -14.8 -11.4C-16.1 -13.6 -17.5 -14.8 -18.3 -17.0C-19.1 -19.2 -19.7 -22.0 -19.7 -24.6C-19.7 -27.2 -19.4 -30.0 -18.3 -32.9C-17.2 -35.8 -15.5 -39.3 -13.1 -42.0C-10.7 -44.7 -6.8 -46.9 -4.0 -48.9C-1.2 -50.9 1.5 -52.6 3.6 -53.8C5.7 -55.0 6.9 -55.9 8.5 -55.9C10.1 -55.9 12.0 -54.8 13.0 -53.8C14.0 -52.8 14.7 -51.7 14.7 -49.6C14.7 -47.5 13.6 -44.1 13.0 -41.3C12.4 -38.5 11.3 -35.3 11.2 -32.9C11.1 -30.5 11.9 -28.5 12.3 -26.7C12.7 -24.9 13.6 -23.7 13.7 -21.8C13.8 -19.9 13.1 -17.7 12.6 -15.6C12.1 -13.5 11.5 -11.5 10.5 -9.3C9.5 -7.1 7.3 -4.4 6.4 -2.4C5.5 -0.4 5.5 1.7 5.3 2.5" fill="none" stroke="#79adc5" stroke-width="1.1"/><path d="M-0.6 -6.2C-2.7 -6.8 -6.1 -9.1 -8.2 -11.4C-10.3 -13.7 -12.2 -17.1 -13.1 -19.8C-14.0 -22.5 -14.2 -24.6 -13.8 -27.4C-13.5 -30.2 -12.6 -33.7 -11.0 -36.4C-9.4 -39.1 -6.4 -41.4 -4.0 -43.4C-1.6 -45.4 1.5 -47.1 3.6 -48.2C5.7 -49.4 7.3 -50.3 8.5 -50.3C9.7 -50.3 10.3 -49.4 10.5 -48.2C10.7 -47.1 10.3 -45.4 9.9 -43.4C9.5 -41.4 8.3 -38.5 7.8 -36.4C7.3 -34.3 7.0 -32.8 7.1 -30.9C7.2 -29.0 8.2 -27.3 8.5 -25.3C8.8 -23.3 9.3 -21.2 9.2 -19.0C9.1 -16.8 8.6 -13.9 7.8 -12.1C7.0 -10.2 5.7 -8.9 4.3 -7.9C2.9 -6.9 1.5 -5.6 -0.6 -6.2Z" fill="#6c4f82"/><path d="M-6.8 -8.6C-7.5 -8.9 -7.1 -9.5 -8.2 -11.4C-9.2 -13.3 -12.2 -17.1 -13.1 -19.8C-14.0 -22.5 -14.2 -24.6 -13.8 -27.4C-13.5 -30.2 -12.6 -33.7 -11.0 -36.4C-9.4 -39.1 -6.4 -41.4 -4.0 -43.4C-1.6 -45.4 1.5 -47.1 3.6 -48.2C5.7 -49.3 8.0 -51.1 8.5 -50.0C9.0 -48.9 7.3 -43.9 6.7 -41.3C6.1 -38.7 5.3 -36.5 5.0 -34.3C4.7 -32.1 4.7 -30.3 4.6 -28.1C4.5 -25.9 4.8 -23.4 4.3 -21.1C3.8 -18.8 2.9 -16.2 1.5 -14.2C0.1 -12.2 -2.6 -10.2 -4.0 -9.3C-5.4 -8.4 -6.1 -8.2 -6.8 -8.6Z" fill="#885da1"/><path d="M-15.8 -17.0C-16.1 -18.3 -17.4 -22.0 -17.4 -24.6C-17.4 -27.2 -16.9 -30.1 -15.8 -32.9C-14.7 -35.7 -13.2 -38.9 -11.0 -41.3C-8.8 -43.7 -5.2 -45.7 -2.6 -47.5C-0.0 -49.3 2.5 -51.0 4.3 -52.0C6.1 -53.0 7.2 -53.7 8.5 -53.8C9.8 -53.9 11.1 -53.2 11.9 -52.4C12.7 -51.6 13.2 -50.8 13.2 -48.9C13.1 -47.0 12.2 -44.0 11.6 -41.3C11.0 -38.6 9.9 -35.3 9.7 -32.9C9.5 -30.5 9.9 -28.8 10.2 -26.7C10.5 -24.6 11.4 -21.2 11.6 -20.1" fill="none" stroke="#db6480" stroke-width="1.8"/><rect x="-1.6" y="-4.2" width="3.2" height="6.6" fill="#db6480"/></g><circle cx="1451.7" cy="1083" r="0.80" fill="#f5923e"/><circle cx="1458.7" cy="1083" r="0.86" fill="#f5923e"/><circle cx="1465.8" cy="1083" r="0.95" fill="#f5923e"/><circle cx="1472.8" cy="1083" r="1.05" fill="#f5923e"/><circle cx="1479.8" cy="1083" r="1.17" fill="#f5923e"/><circle cx="1486.9" cy="1083" r="1.29" fill="#f5923e"/><circle cx="1493.9" cy="1083" r="1.42" fill="#f5923e"/><circle cx="1500.9" cy="1083" r="1.56" fill="#f5923e"/><circle cx="1508.0" cy="1083" r="1.70" fill="#f5923e"/><circle cx="1515.0" cy="1083" r="1.85" fill="#f5923e"/><circle cx="1522.0" cy="1083" r="2.01" fill="#f5923e"/><circle cx="1529.1" cy="1083" r="2.17" fill="#f5923e"/><circle cx="1536.1" cy="1083" r="2.33" fill="#f5923e"/><circle cx="1543.1" cy="1083" r="2.50" fill="#f5923e"/><circle cx="1550.2" cy="1083" r="2.33" fill="#f5923e"/><circle cx="1557.2" cy="1083" r="2.17" fill="#f5923e"/><circle cx="1564.3" cy="1083" r="2.01" fill="#f5923e"/><circle cx="1571.3" cy="1083" r="1.85" fill="#f5923e"/><circle cx="1578.3" cy="1083" r="1.70" fill="#f5923e"/><circle cx="1585.4" cy="1083" r="1.56" fill="#f5923e"/><circle cx="1592.4" cy="1083" r="1.42" fill="#f5923e"/><circle cx="1599.4" cy="1083" r="1.29" fill="#f5923e"/><circle cx="1606.5" cy="1083" r="1.17" fill="#f5923e"/><circle cx="1613.5" cy="1083" r="1.05" fill="#f5923e"/><circle cx="1620.5" cy="1083" r="0.95" fill="#f5923e"/><circle cx="1627.6" cy="1083" r="0.86" fill="#f5923e"/><circle cx="1634.6" cy="1083" r="0.80" fill="#f5923e"/><circle cx="111.3" cy="444.7" r="6" fill="#000"/><circle cx="111.3" cy="544.2" r="6" fill="#000"/><circle cx="111.3" cy="644.0" r="6" fill="#000"/><circle cx="111.3" cy="693.5" r="6" fill="#000"/><circle cx="111.3" cy="793.4" r="6" fill="#000"/><circle cx="111.3" cy="893.2" r="6" fill="#000"/><circle cx="111.3" cy="992.8" r="6" fill="#000"/></svg>
<header aria-label="Title">
<h1 class="ln" style="left:556px;top:13px;width:942px;height:80px;font-size:64.0px;transform:translateY(0.00px)"><span class="b" style="left:11.02px;transform:scaleX(0.8914);-webkit-text-stroke-width:1.04px">Genetic </span><span class="b" style="left:236.12px;transform:scaleX(0.8924);-webkit-text-stroke-width:1.04px">Causes </span><span class="b" style="left:453.14px;transform:scaleX(0.9305);-webkit-text-stroke-width:1.04px">of </span><span class="b" style="left:524.39px;transform:scaleX(0.9533);-webkit-text-stroke-width:1.04px">Male </span><span class="b" style="left:675.19px;transform:scaleX(0.9267);-webkit-text-stroke-width:1.04px">Infertility </span></h1>
</header>
<section aria-label="Oxidative Stress">
<h2 class="ln" style="left:364px;top:124px;width:348px;height:56px;font-size:44.3px;transform:translateY(0.70px)"><span class="b" style="left:11.67px;transform:scaleX(0.9315);-webkit-text-stroke-width:0.60px">Oxidative </span><span class="b" style="left:207.17px;transform:scaleX(0.9316);-webkit-text-stroke-width:0.60px">Stress </span></h2>
<div class="ln" style="left:118px;top:175px;width:805px;height:44px;font-size:35.0px;transform:translateY(0.60px)"><span style="left:11.85px;transform:scaleX(0.9523)">Oxidative </span><span style="left:160.20px;transform:scaleX(0.9952)">stress </span><span style="left:262.33px;transform:scaleX(1.0265)">affects </span><span style="left:377.25px;transform:scaleX(0.9475)">up </span><span style="left:423.59px;transform:scaleX(1.0244)">to </span><span style="left:463.23px;transform:scaleX(0.8838)">80% </span><span style="left:534.52px;transform:scaleX(1.0247)">of </span><span style="left:574.08px;transform:scaleX(0.9740)">male </span><span style="left:657.01px;transform:scaleX(1.0265)">infertility </span></div>
<div class="ln" style="left:118px;top:225px;width:762px;height:44px;font-size:35.0px;transform:translateY(0.00px)"><span style="left:11.62px;transform:scaleX(0.9767)">cases. </span><span style="left:118.19px;transform:scaleX(0.9759)">It </span><span style="left:147.58px;transform:scaleX(0.9678)">causes </span><span style="left:263.78px;transform:scaleX(0.9269)">DNA </span><span style="left:341.87px;transform:scaleX(0.9723)">damage </span><span style="left:473.99px;transform:scaleX(0.9396)">and </span><span style="left:538.57px;transform:scaleX(1.0045)">mitochondrial </span></div>
<div class="ln" style="left:118px;top:274px;width:661px;height:44px;font-size:35.0px;transform:translateY(0.90px)"><span style="left:11.61px;transform:scaleX(0.9860)">dysfunction, </span><span style="left:203.66px;transform:scaleX(0.9661)">leading </span><span style="left:321.87px;transform:scaleX(1.0202)">to </span><span style="left:361.00px;transform:scaleX(0.9546)">decreased </span><span style="left:526.52px;transform:scaleX(1.0485)">motility. </span></div>
</section>
<section aria-label="Environmental Risk Factors">
<h2 class="ln" style="left:317px;top:376px;width:564px;height:56px;font-size:44.3px;transform:translateY(0.00px)"><span class="b" style="left:9.22px;transform:scaleX(0.9255);-webkit-text-stroke-width:0.60px">Environmental </span><span class="b" style="left:306.05px;transform:scaleX(0.8835);-webkit-text-stroke-width:0.60px">Risk </span><span class="b" style="left:402.77px;transform:scaleX(0.9083);-webkit-text-stroke-width:0.60px">Factors </span></h2>
<div class="ln" style="left:130px;top:425px;width:510px;height:44px;font-size:35.0px;transform:translateY(0.20px)"><span class="b" style="left:10.28px;transform:scaleX(0.9117)">Poor Diet</span><span style="left:152.66px;transform:scaleX(0.9466)">: </span><span style="left:169.69px;transform:scaleX(0.9662)">Processed </span><span style="left:339.81px;transform:scaleX(0.9911)">foods, </span><span style="left:441.58px;transform:scaleX(0.9890)">low </span></div>
<div class="ln" style="left:129px;top:474px;width:220px;height:44px;font-size:35.0px;transform:translateY(0.60px)"><span style="left:11.91px;transform:scaleX(0.9876)">antioxidants. </span></div>
<div class="ln" style="left:129px;top:524px;width:538px;height:44px;font-size:35.0px;transform:translateY(0.70px)"><span class="b" style="left:11.59px;transform:scaleX(0.9064)">Smoking &amp; Cannabis Use</span><span style="left:395.15px;transform:scaleX(0.9488)">: </span><span style="left:412.20px;transform:scaleX(0.9768)">Lowers </span></div>
<div class="ln" style="left:129px;top:574px;width:396px;height:44px;font-size:35.0px;transform:translateY(0.20px)"><span style="left:11.52px;transform:scaleX(0.9779)">sperm </span><span style="left:115.54px;transform:scaleX(0.9776)">count </span><span style="left:209.62px;transform:scaleX(0.9330)">and </span><span style="left:273.97px;transform:scaleX(1.0089)">quality. </span></div>
<div class="ln" style="left:129px;top:624px;width:535px;height:44px;font-size:35.0px;transform:translateY(0.50px)"><span class="b" style="left:11.09px;transform:scaleX(0.9120)">Alcohol</span><span style="left:126.15px;transform:scaleX(0.9494)">: </span><span style="left:143.31px;transform:scaleX(0.9444)">Reduces </span><span style="left:283.07px;transform:scaleX(0.9848)">sperm </span><span style="left:388.23px;transform:scaleX(1.0129)">function. </span></div>
<div class="ln" style="left:129px;top:674px;width:573px;height:44px;font-size:35.0px;transform:translateY(0.00px)"><span class="b" style="left:11.59px;transform:scaleX(0.9110)">Stress &amp; Cortisol</span><span style="left:268.64px;transform:scaleX(0.9542)">: </span><span style="left:285.75px;transform:scaleX(0.9918)">Disrupts </span><span style="left:422.00px;transform:scaleX(0.9854)">hormone </span></div>
<div class="ln" style="left:130px;top:723px;width:386px;height:44px;font-size:35.0px;transform:translateY(0.90px)"><span style="left:10.08px;transform:scaleX(0.9579)">balance, </span><span style="left:144.14px;transform:scaleX(0.9702)">increases </span><span style="left:298.64px;transform:scaleX(0.8574)">ROS. </span></div>
<div class="ln" style="left:130px;top:773px;width:605px;height:44px;font-size:35.0px;transform:translateY(0.90px)"><span class="b" style="left:10.28px;transform:scaleX(0.9107)">Heat Exposure</span><span style="left:232.65px;transform:scaleX(0.9491)">: </span><span style="left:249.97px;transform:scaleX(1.0000)">Impacts </span><span style="left:382.14px;transform:scaleX(1.0042)">mitochondrial </span></div>
<div class="ln" style="left:129px;top:823px;width:399px;height:44px;font-size:35.0px;transform:translateY(0.30px)"><span style="left:11.56px;transform:scaleX(0.9381)">energy </span><span style="left:121.40px;transform:scaleX(0.9346)">and </span><span style="left:185.64px;transform:scaleX(0.9918)">testosterone. </span></div>
<div class="ln" style="left:129px;top:873px;width:583px;height:44px;font-size:35.0px;transform:translateY(0.70px)"><span class="b" style="left:12.00px;transform:scaleX(0.9176)">Toxins &amp; Heavy Metals</span><span style="left:357.18px;transform:scaleX(0.9405)">: </span><span style="left:374.17px;transform:scaleX(0.9377)">BPA, </span><span style="left:454.32px;transform:scaleX(0.9636)">dioxins, </span></div>
<div class="ln" style="left:130px;top:923px;width:538px;height:44px;font-size:35.0px;transform:translateY(0.30px)"><span style="left:10.26px;transform:scaleX(0.9718)">mercury, </span><span style="left:148.31px;transform:scaleX(0.9904)">cadmium </span><span style="left:298.06px;transform:scaleX(0.9855)">disrupt </span><span style="left:411.73px;transform:scaleX(1.0425)">fertility. </span></div>
<div class="ln" style="left:130px;top:973px;width:466px;height:44px;font-size:35.0px;transform:translateY(0.30px)"><span class="b" style="left:10.23px;transform:scaleX(0.9367)">Medications</span><span style="left:198.65px;transform:scaleX(0.9491)">: </span><span style="left:216.51px;transform:scaleX(0.9618)">Steroids, </span><span style="left:357.25px;transform:scaleX(0.8731)">SSRIs, </span></div>
<div class="ln" style="left:130px;top:1023px;width:511px;height:44px;font-size:35.0px;transform:translateY(0.10px)"><span style="left:10.23px;transform:scaleX(0.9851)">methotrexate </span><span style="left:220.32px;transform:scaleX(0.9650)">linked </span><span style="left:318.13px;transform:scaleX(1.0192)">to </span><span style="left:356.70px;transform:scaleX(1.0346)">infertility. </span></div>
<div class="ln" style="left:742px;top:619px;width:136px;height:44px;font-size:35.0px;transform:translateY(0.80px)"><span style="left:9.02px;transform:scaleX(0.9944)">Normal </span></div>
<div class="ln" style="left:740px;top:658px;width:122px;height:44px;font-size:35.0px;transform:translateY(0.90px)"><span style="left:11.81px;transform:scaleX(0.9894)">sperm </span></div>
<div class="ln" style="left:980px;top:601px;width:109px;height:39px;font-size:30.5px;transform:translateY(0.80px)"><span style="left:11.07px;transform:scaleX(0.9787)">sperm </span></div>
<div class="ln" style="left:980px;top:634px;width:81px;height:39px;font-size:30.5px;transform:translateY(0.70px)"><span style="left:12.00px;transform:scaleX(0.9868)">with </span></div>
<div class="ln" style="left:980px;top:667px;width:124px;height:39px;font-size:30.5px;transform:translateY(0.50px)"><span style="left:10.87px;transform:scaleX(1.0129)">motility </span></div>
<div class="ln" style="left:981px;top:700px;width:133px;height:39px;font-size:30.5px;transform:translateY(0.60px)"><span style="left:10.34px;transform:scaleX(0.9792)">problem </span></div>
<div class="ln" style="left:697px;top:916px;width:183px;height:41px;font-size:32.3px;transform:translateY(0.30px)"><span style="left:11.31px;transform:scaleX(0.9929)">sperm </span><span style="left:108.97px;transform:scaleX(1.0202)">with </span></div>
<div class="ln" style="left:697px;top:951px;width:132px;height:41px;font-size:32.3px;transform:translateY(0.70px)"><span style="left:11.79px;transform:scaleX(1.0088)">defects </span></div>
</section>
<section aria-label="Genetic Factors in Male Infertility">
<h2 class="ln" style="left:1237px;top:191px;width:694px;height:56px;font-size:44.3px;transform:translateY(0.00px)"><span class="b" style="left:11.87px;transform:scaleX(0.9294);-webkit-text-stroke-width:0.60px">Genetic </span><span class="b" style="left:174.89px;transform:scaleX(0.9045);-webkit-text-stroke-width:0.60px">Factors </span><span class="b" style="left:332.09px;transform:scaleX(0.9029);-webkit-text-stroke-width:0.60px">in </span><span class="b" style="left:389.18px;transform:scaleX(1.0074);-webkit-text-stroke-width:0.60px">Male </span><span class="b" style="left:498.32px;transform:scaleX(0.9587);-webkit-text-stroke-width:0.60px">Infertility </span></h2>
<div class="ln" style="left:1177px;top:250px;width:814px;height:44px;font-size:35.0px;transform:translateY(0.60px)"><span class="b" style="left:11.60px;transform:scaleX(0.9000)">CFTR Gene</span><span style="left:182.75px;transform:scaleX(0.9487)">: </span><span style="left:199.82px;transform:scaleX(0.9701)">Linked </span><span style="left:308.81px;transform:scaleX(1.0242)">to </span><span style="left:348.07px;transform:scaleX(0.9835)">congenital </span><span style="left:515.01px;transform:scaleX(0.9610)">absence </span><span style="left:651.21px;transform:scaleX(1.0244)">of </span><span style="left:690.72px;transform:scaleX(0.9852)">the </span><span style="left:747.12px;transform:scaleX(0.9422)">vas </span></div>
<div class="ln" style="left:1177px;top:298px;width:711px;height:44px;font-size:35.0px;transform:translateY(0.80px)"><span style="left:11.53px;transform:scaleX(0.9693)">deferens </span><span style="left:152.37px;transform:scaleX(1.0021)">(common </span><span style="left:307.43px;transform:scaleX(0.9871)">in </span><span style="left:343.25px;transform:scaleX(0.9986)">cystic </span><span style="left:440.71px;transform:scaleX(1.0088)">fibrosis </span><span style="left:562.09px;transform:scaleX(0.9816)">carriers). </span></div>
<div class="ln" style="left:1178px;top:349px;width:800px;height:44px;font-size:35.0px;transform:translateY(0.20px)"><span class="b" style="left:10.67px;transform:scaleX(0.9161)">DNA Damage Repair Genes</span><span style="left:427.65px;transform:scaleX(0.9515)">: </span><span style="left:444.89px;transform:scaleX(0.9294)">PRM1, </span><span style="left:551.78px;transform:scaleX(0.9121)">LIG4 </span><span style="left:630.81px;transform:scaleX(1.0086)">mutations </span></div>
<div class="ln" style="left:1177px;top:397px;width:357px;height:44px;font-size:35.0px;transform:translateY(0.90px)"><span style="left:11.47px;transform:scaleX(1.0272)">affect </span><span style="left:108.53px;transform:scaleX(0.9798)">sperm </span><span style="left:212.29px;transform:scaleX(1.0111)">integrity. </span></div>
<div class="ln" style="left:1177px;top:448px;width:817px;height:44px;font-size:35.0px;transform:translateY(0.90px)"><span class="b" style="left:11.59px;transform:scaleX(0.9071)">Oxidative Stress Response Genes</span><span style="left:526.07px;transform:scaleX(0.9432)">: </span><span style="left:544.35px;transform:scaleX(0.9117)">GSTM1, </span><span style="left:670.19px;transform:scaleX(0.9353)">HSPA1L, </span></div>
<div class="ln" style="left:1178px;top:498px;width:693px;height:44px;font-size:35.0px;transform:translateY(0.90px)"><span style="left:9.79px;transform:scaleX(0.9048)">NOS3 </span><span style="left:105.40px;transform:scaleX(0.9826)">variations </span><span style="left:261.85px;transform:scaleX(0.9673)">increase </span><span style="left:398.45px;transform:scaleX(0.8385)">ROS </span><span style="left:471.64px;transform:scaleX(1.0102)">susceptibility. </span></div>
<div class="ln" style="left:1178px;top:548px;width:757px;height:44px;font-size:35.0px;transform:translateY(0.40px)"><span class="b" style="left:10.66px;transform:scaleX(0.9182)">Methylation Cycle Genes</span><span style="left:390.06px;transform:scaleX(0.9474)">: </span><span style="left:407.23px;transform:scaleX(0.9227)">MTHFR, </span><span style="left:536.42px;transform:scaleX(0.9197)">MTRR </span><span style="left:637.04px;transform:scaleX(1.0064)">impact </span></div>
<div class="ln" style="left:1177px;top:598px;width:334px;height:44px;font-size:35.0px;transform:translateY(0.50px)"><span style="left:11.52px;transform:scaleX(0.9805)">sperm </span><span style="left:115.82px;transform:scaleX(0.9753)">development. </span></div>
<div class="ln" style="left:1178px;top:648px;width:764px;height:44px;font-size:35.0px;transform:translateY(0.50px)"><span class="b" style="left:10.65px;transform:scaleX(0.9232)">Hormone-Related Genes</span><span style="left:386.55px;transform:scaleX(0.9511)">: </span><span style="left:403.90px;transform:scaleX(0.8890)">FSHR </span><span style="left:497.25px;transform:scaleX(1.0082)">mutations </span><span style="left:660.08px;transform:scaleX(1.0344)">affect </span></div>
<div class="ln" style="left:1177px;top:698px;width:573px;height:44px;font-size:35.0px;transform:translateY(0.50px)"><span style="left:12.50px;transform:scaleX(1.0051)">follicle-stimulating </span><span style="left:298.91px;transform:scaleX(0.9768)">hormone </span><span style="left:443.19px;transform:scaleX(1.0217)">activity. </span></div>
<div class="ln" style="left:1178px;top:748px;width:831px;height:44px;font-size:35.0px;transform:translateY(0.00px)"><span class="b" style="left:10.66px;transform:scaleX(0.9191)">Immune System Genes</span><span style="left:363.75px;transform:scaleX(0.9508)">: </span><span style="left:381.04px;transform:scaleX(0.9075)">HLA-DRA </span><span style="left:530.06px;transform:scaleX(0.9880)">variations </span><span style="left:687.54px;transform:scaleX(0.9719)">linked </span><span style="left:786.06px;transform:scaleX(1.0265)">to </span></div>
<div class="ln" style="left:1178px;top:797px;width:410px;height:44px;font-size:35.0px;transform:translateY(0.90px)"><span style="left:10.56px;transform:scaleX(0.9723)">immune-related </span><span style="left:255.59px;transform:scaleX(1.0347)">infertility. </span></div>
<div class="ln" style="left:1178px;top:847px;width:809px;height:44px;font-size:35.0px;transform:translateY(0.70px)"><span class="b" style="left:10.67px;transform:scaleX(0.9173)">Iron Overload (HFE Mutations)</span><span style="left:473.15px;transform:scaleX(0.9516)">: </span><span style="left:490.33px;transform:scaleX(0.9501)">Excess </span><span style="left:606.83px;transform:scaleX(0.9798)">iron </span><span style="left:673.72px;transform:scaleX(0.9650)">leads </span><span style="left:764.03px;transform:scaleX(1.0273)">to </span></div>
<div class="ln" style="left:1177px;top:897px;width:411px;height:44px;font-size:35.0px;transform:translateY(0.70px)"><span style="left:11.52px;transform:scaleX(0.9771)">oxidative </span><span style="left:155.61px;transform:scaleX(0.9907)">stress </span><span style="left:256.75px;transform:scaleX(0.9850)">in </span><span style="left:292.44px;transform:scaleX(0.9794)">sperm. </span></div>
</section>
<footer aria-label="Genetic Lifehacks">
<div class="ln dv" style="left:1384px;top:1050px;width:323px;height:40px;font-size:31.5px;transform:translateY(0.30px);color:#7f7f7f"><span class="b" style="left:11.05px;transform:scaleX(0.9455)">Genetic Lifehacks </span></div>
<div class="ln dv" style="left:1392px;top:1086px;width:308px;height:21px;font-size:16.5px;transform:translateY(0.60px);color:#4f9a6a"><span class="b" style="left:10.96px;transform:scaleX(1.0359)">Learn. Experiment. Optimize. </span></div>
</footer>
</body>
</html>
